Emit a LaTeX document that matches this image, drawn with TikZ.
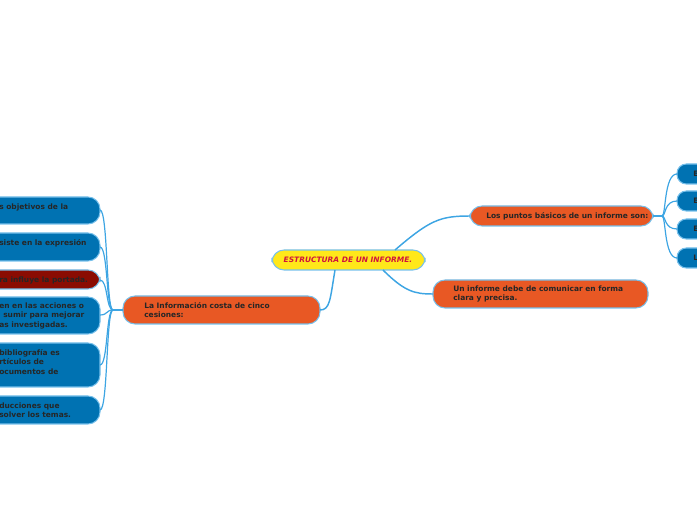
\documentclass[tikz,border=0pt]{standalone}
\usepackage{fontspec}
\setmainfont{DejaVu Sans}
\definecolor{orng}{HTML}{E85824}
\definecolor{blu}{HTML}{0072B2}
\definecolor{dred}{HTML}{8A0C02}
\definecolor{yel}{HTML}{FFE81A}
\definecolor{lnk}{HTML}{3DA5E3}
\definecolor{txr}{HTML}{D0143C}
\begin{document}
\begin{tikzpicture}[x=0.75pt,y=-0.75pt,
 box/.style={draw=lnk!70,line width=0.8pt,rounded corners=9pt},
 tx/.style={font=\bfseries\fontsize{5.6}{7}\selectfont,anchor=west,align=left,inner sep=0pt,text=black!85},
 con/.style={draw=lnk,line width=1.1pt}]
\useasboundingbox (0,0) rectangle (697,520);
\clip (0,0) rectangle (697,520);
% boxes
\filldraw[box,fill=yel] (272,250) rectangle (425,270); \coordinate (c) at (348,260);
\node[font=\bfseries\itshape\fontsize{5.6}{7}\selectfont,text=txr] at (348,260) {ESTRUCTURA DE UN INFORME.};
\filldraw[box,fill=orng] (470,206) rectangle (653,226);
\node[tx] (p) at (486,216) {Los puntos básicos de un informe son:};
\filldraw[box,fill=orng] (433,280) rectangle (648,308);
\node[tx] (u) at (453,294) {Un informe debe de comunicar en forma\\clara y precisa.};
\filldraw[box,fill=orng] (123,296) rectangle (320,324);
\node[tx] (l) at (144,310) {La Información costa de cinco\\cesiones:};
% right small
\foreach \y/\t in {164/E,191/E,219/E,248/L}{
 \filldraw[box,fill=blu,rounded corners=7pt] (677,\y) rectangle (720,\y+20);
 \node[tx] at (693,\y+10) {\t};}
% left
\filldraw[box,fill=blu] (-30,197) rectangle (100,224);
\node[tx] at (-1,207) {s objetivos de la};
\filldraw[box,fill=blu] (-30,233) rectangle (100,261);
\node[tx] at (-1,243) {siste en la expresión};
\filldraw[box,fill=dred] (-30,270) rectangle (100,289);
\node[tx] at (-1,280) {ra influye la portada.};
\filldraw[box,fill=blu] (-30,297) rectangle (100,334);
\node[tx] at (-1,316) {en en las acciones o\\[-0.2pt]\hspace*{3pt}sumir para mejorar\\as investigadas.};
\filldraw[box,fill=blu] (-30,343) rectangle (100,387);
\node[tx] at (-1,362) {bibliografía es\\rtículos de\\ocumentos de};
\filldraw[box,fill=blu] (-30,396) rectangle (100,424);
\node[tx] at (-1,410) {ducciones que\\solver los temas.};
% connectors
\coordinate (cb) at (335,270); \coordinate (lr) at (320,310);
\draw[con] (cb) .. controls (330,300) and (330,310) .. (lr);
\coordinate (ct) at (395,250); \coordinate (pl) at (470,216);
\draw[con] (ct) .. controls (430,220) and (440,216) .. (pl);
\coordinate (cr) at (383,270); \coordinate (ul) at (433,294);
\draw[con] (cr) .. controls (405,292) and (415,294) .. (ul);
\coordinate (pr) at (653,216);
\draw[con] (pr) -- (662,216);
\foreach \y in {174,201,229,258}{
 \draw[con,line width=0.9pt] (662,216) .. controls (666,216) and (664,\y) .. (677,\y);}
\coordinate (ll) at (123,310);
\draw[con] (ll) -- (113,310);
\foreach \y in {210,247,280,315,365,410}{
 \draw[con,line width=0.9pt] (113,310) .. controls (106,310) and (108,\y) .. (100,\y);}
\end{tikzpicture}
\end{document}
